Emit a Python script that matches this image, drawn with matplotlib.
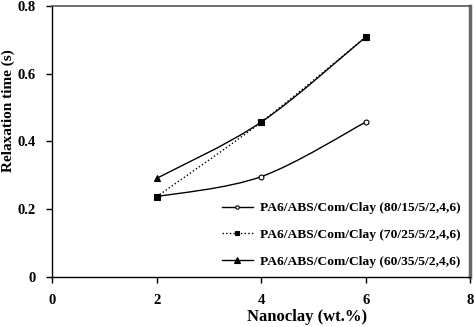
import matplotlib
matplotlib.use("Agg")
import matplotlib.pyplot as plt
from matplotlib.path import Path
from matplotlib.patches import PathPatch
from matplotlib.lines import Line2D

plt.rcParams['font.family'] = ['Liberation Serif', 'DejaVu Serif']
plt.rcParams['font.weight'] = 'bold'

nanoclay = [2, 4, 6]
s80 = [0.237, 0.296, 0.457]
s70 = [0.237, 0.457, 0.708]
s60 = [0.291, 0.457, 0.708]
labels = ["PA6/ABS/Com/Clay (80/15/5/2,4,6)",
          "PA6/ABS/Com/Clay (70/25/5/2,4,6)",
          "PA6/ABS/Com/Clay (60/35/5/2,4,6)"]
xticks = [0, 2, 4, 6, 8]
yticks = [0, 0.2, 0.4, 0.6, 0.8]
ytick_labels = ["0", "0.2", "0.4", "0.6", "0.8"]

fig = plt.figure(figsize=(4.74, 3.27), dpi=100)
ax = fig.add_axes([0.110, 0.153, 0.882, 0.829])


def smooth_path(xs, ys):
    # Catmull-Rom style Bezier (like spreadsheet "smoothed line")
    pts = list(zip(xs, ys))
    verts = [pts[0]]
    codes = [Path.MOVETO]
    n = len(pts)
    for i in range(n - 1):
        p0 = pts[i - 1] if i > 0 else pts[i]
        p1 = pts[i]
        p2 = pts[i + 1]
        p3 = pts[i + 2] if i + 2 < n else pts[i + 1]
        c1 = (p1[0] + (p2[0] - p0[0]) / 6, p1[1] + (p2[1] - p0[1]) / 6)
        c2 = (p2[0] - (p3[0] - p1[0]) / 6, p2[1] - (p3[1] - p1[1]) / 6)
        verts += [c1, c2, p2]
        codes += [Path.CURVE4] * 3
    return Path(verts, codes)


series = [
    (s80, '-', 'o', 'white', 3.5),
    (s70, ':', 's', 'black', 4.5),
    (s60, '-', '^', 'black', 5),
]
handles = []
for (vals, ls, mk, mfc, ms), lab in zip(series, labels):
    patch = PathPatch(smooth_path(nanoclay, vals), facecolor='none',
                      edgecolor='black', lw=1.0, linestyle=ls)
    ax.add_patch(patch)
    ax.plot(nanoclay, vals, linestyle='none', marker=mk, ms=ms,
            mfc=mfc, mec='black', mew=0.8, zorder=3)
    handles.append(Line2D([], [], color='black', lw=1.0, linestyle=ls,
                          marker=mk, ms=ms - 1, mfc=mfc, mec='black', mew=0.8))

ax.set_xlim(0, 8)
ax.set_ylim(0, 0.8)
ax.set_xticks(xticks)
ax.set_xticklabels([str(v) for v in xticks])
ax.set_yticks(yticks)
ax.set_yticklabels(ytick_labels)
ax.tick_params(direction='out', length=4, width=1, labelsize=10.5, pad=8)
for lab in ax.get_xticklabels() + ax.get_yticklabels():
    lab.set_fontweight('bold')

ax.spines['left'].set_color('black')
ax.spines['bottom'].set_color('black')
ax.spines['left'].set_linewidth(1.0)
ax.spines['bottom'].set_linewidth(1.0)
ax.spines['top'].set_color('#555555')
ax.spines['top'].set_linewidth(1.2)
ax.spines['right'].set_color('#666666')
ax.spines['right'].set_linewidth(2.5)

ax.set_xlabel("Nanoclay (wt.%)", fontsize=12, fontweight='bold')
ax.xaxis.set_label_coords(0.61, -0.118)
ax.set_ylabel("Relaxation time (s)", fontsize=11, fontweight='bold')
ax.yaxis.set_label_coords(-0.088, 0.615)

leg = ax.legend(handles, labels, loc='lower right', frameon=False,
                handlelength=2.3, handletextpad=0.5,
                labelspacing=1.05, bbox_to_anchor=(1.005, -0.01),
                prop={'weight': 'bold', 'size': 9.7})

fig.savefig("out.png", dpi=100)
